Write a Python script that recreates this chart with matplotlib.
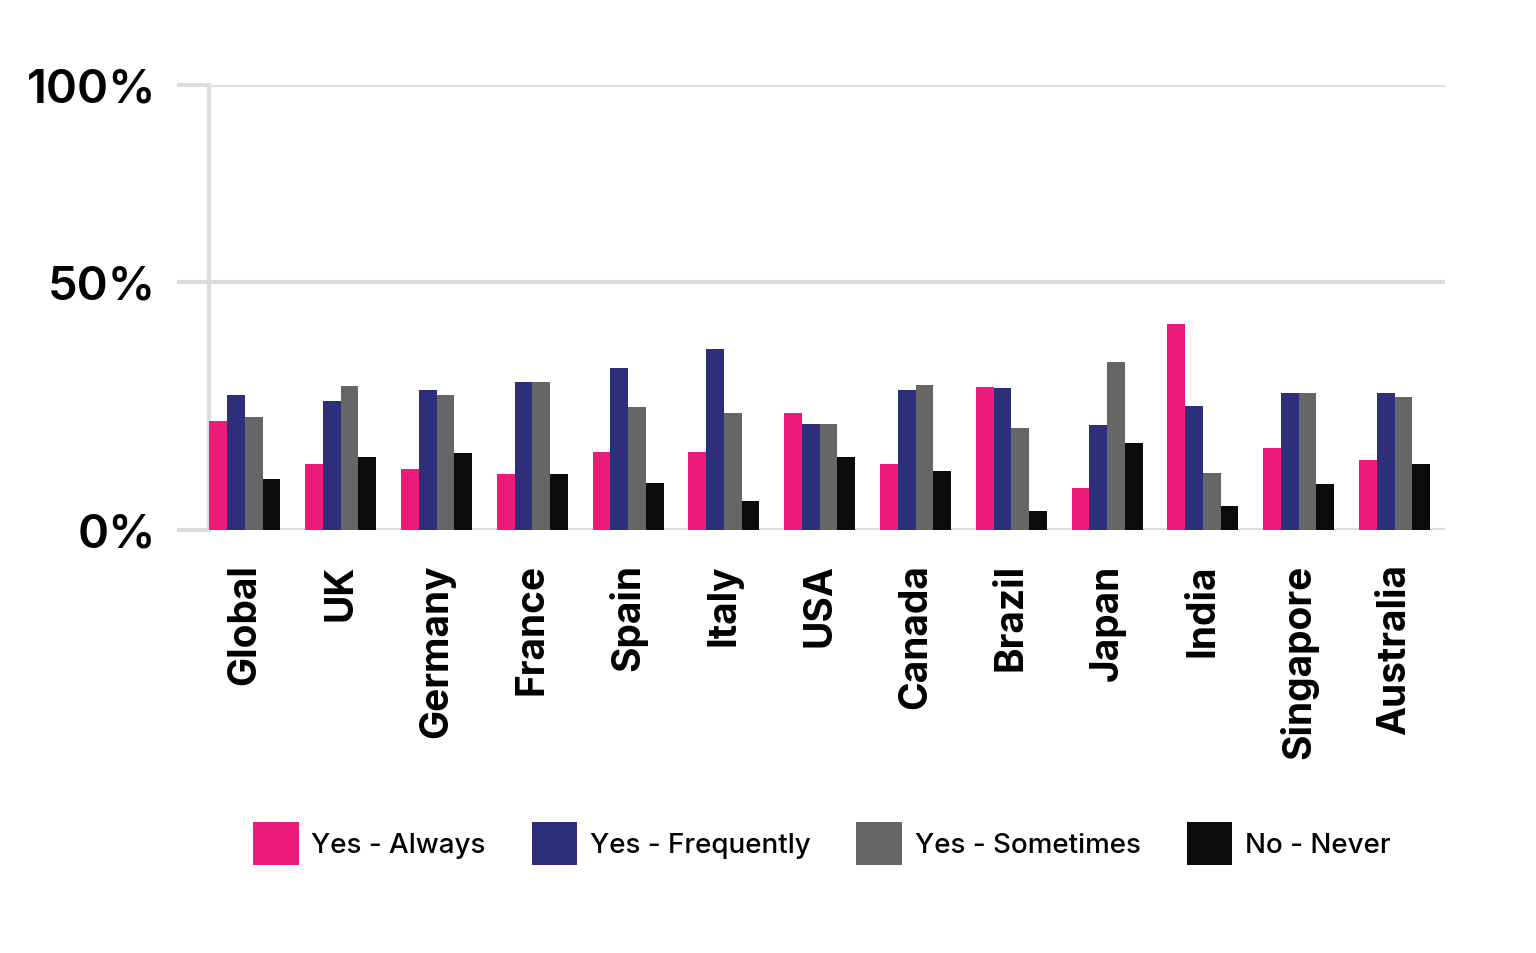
import matplotlib.pyplot as plt
import numpy as np

countries = ["Global", "UK", "Germany", "France", "Spain", "Italy", "USA",
             "Canada", "Brazil", "Japan", "India", "Singapore", "Australia"]
always = [22.0, 13.3, 12.2, 11.2, 15.8, 15.8, 23.5, 13.4, 28.8, 8.4, 41.6, 16.6, 14.2]
frequently = [27.3, 26.1, 28.3, 29.9, 32.6, 36.4, 21.4, 28.3, 28.6, 21.2, 25.0, 27.7, 27.7]
sometimes = [22.8, 29.0, 27.3, 29.9, 24.7, 23.5, 21.4, 29.2, 20.6, 33.8, 11.5, 27.7, 26.8]
never = [10.3, 14.7, 15.6, 11.2, 9.4, 5.8, 14.7, 11.8, 3.8, 17.6, 4.8, 9.3, 13.3]

series = [("Yes - Always", always, "#EC1A78"),
          ("Yes - Frequently", frequently, "#2E2F7A"),
          ("Yes - Sometimes", sometimes, "#666666"),
          ("No - Never", never, "#0A0B0B")]

plt.rcParams["font.family"] = ["Inter", "DejaVu Sans"]

fig = plt.figure(figsize=(15.36, 9.54), dpi=100)
ax = fig.add_axes([0.136, 0.4434, 0.8047, 0.4665])

x = np.arange(len(countries))
w = 0.185
for i, (name, vals, col) in enumerate(series):
    ax.bar(x + (i - 1.5) * w, vals, width=w, color=col, label=name, zorder=3)

top = 89.7
ax.set_xlim(-0.376, 12.526)
ax.set_ylim(0, top)
ax.set_yticks([0, 50, top])
ax.set_yticklabels(["0%", "50%", "100%"], fontsize=34, fontweight="semibold")
ax.grid(axis="y", color="#DCDCE0", linewidth=3, zorder=0)
ax.tick_params(axis="y", length=23, width=3, color="#DCDCE0", pad=15)

ax.set_xticks(x)
ax.set_xticklabels(countries, rotation=90, fontsize=28, fontweight="bold")
ax.tick_params(axis="x", length=0, pad=24)

for s in ["top", "right", "bottom"]:
    ax.spines[s].set_visible(False)
ax.spines["left"].set_color("#DCDCE0")
ax.spines["left"].set_linewidth(3)

fig.legend(loc="center", bbox_to_anchor=(0.535, 0.115), ncol=4, frameon=False,
           prop={"size": 20, "weight": "medium"}, handlelength=1.65,
           handleheight=2.0, handletextpad=0.45, columnspacing=1.65)

fig.savefig("out.png", dpi=100)
